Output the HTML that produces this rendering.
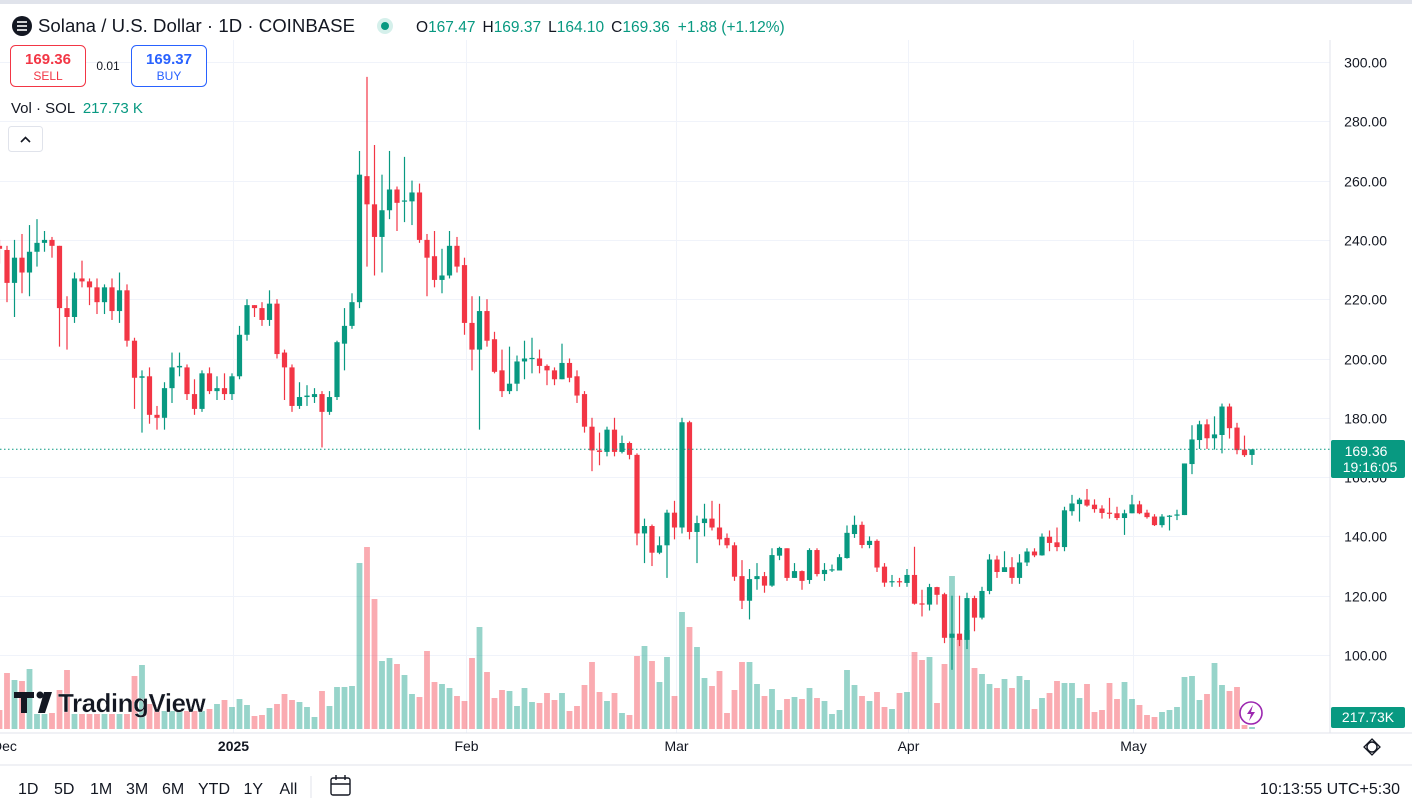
<!DOCTYPE html>
<html><head><meta charset="utf-8"><style>
body{margin:0;width:1412px;height:802px;overflow:hidden;background:#fff;font-family:"Liberation Sans",sans-serif;}
svg{position:absolute;left:0;top:0}
</style></head><body>
<svg id="chart" width="1412" height="802" font-family="Liberation Sans, sans-serif">
<rect x="0" y="0" width="1412" height="4" fill="#e0e3eb"/>
<g id="grid"></g>
<g id="vol"></g>
<g id="candles"></g>
<line x1="0" y1="449.3" x2="1330" y2="449.3" stroke="#089981" stroke-width="1" stroke-dasharray="1.5,2.5"/>
<g id="yaxis"></g>
<g id="xaxis"></g>
<line x1="0" y1="733" x2="1412" y2="733" stroke="#e0e3eb"/>
<line x1="1330" y1="40" x2="1330" y2="733" stroke="#e0e3eb"/>
<rect x="1331" y="440" width="74" height="38" rx="2" fill="#089981"/>
<text x="1366" y="456" fill="#fff" font-size="14" text-anchor="middle">169.36</text>
<text x="1370" y="472" fill="#fff" font-size="14" text-anchor="middle">19:16:05</text>
<rect x="1331" y="707" width="74" height="21" rx="2" fill="#089981"/>
<text x="1368" y="722" fill="#fff" font-size="14" text-anchor="middle">217.73K</text>
<g><circle cx="1372" cy="747" r="5" fill="none" stroke="#131722" stroke-width="1.4"/><polygon points="1372,739 1380,747 1372,755 1364,747" fill="none" stroke="#131722" stroke-width="1.3"/></g>
<g><rect x="14" y="692" width="20" height="6" fill="#131722"/><rect x="21" y="692" width="6" height="21" fill="#131722"/><circle cx="40" cy="695" r="3.5" fill="#131722"/><polygon points="44,692 52,692 45,713 38,713" fill="#131722"/><text x="58" y="712" font-size="26" font-weight="bold" fill="#131722" stroke="#fff" stroke-width="0.3" letter-spacing="-0.5">TradingView</text></g>
<g><circle cx="1251" cy="713" r="11" fill="#fff" stroke="#9c27b0" stroke-width="1.6"/><path d="M1253 705 L1247 714 L1251 714 L1249 721 L1255 712 L1251 712 Z" fill="#9c27b0"/></g>
<line x1="0" y1="765" x2="1412" y2="765" stroke="#e0e3eb"/>
<g id="toolbar"></g>
<g><rect x="331" y="778" width="19" height="17" rx="2" fill="none" stroke="#131722" stroke-width="1.4"/><line x1="331" y1="784" x2="350" y2="784" stroke="#131722" stroke-width="1.4"/><line x1="336" y1="775" x2="336" y2="780" stroke="#131722" stroke-width="1.4"/><line x1="345" y1="775" x2="345" y2="780" stroke="#131722" stroke-width="1.4"/></g>
<line x1="311" y1="776" x2="311" y2="798" stroke="#e0e3eb"/>
<text x="1400" y="794" font-size="16" fill="#131722" text-anchor="end">10:13:55 UTC+5:30</text>
<circle cx="22" cy="26" r="10" fill="#131722"/>
<g stroke="#fff" stroke-width="1.6"><line x1="17" y1="22" x2="27" y2="22"/><line x1="17" y1="26" x2="27" y2="26"/><line x1="17" y1="30" x2="27" y2="30"/></g>
<text x="38" y="32" font-size="18.6" fill="#131722" textLength="317">Solana / U.S. Dollar · 1D · COINBASE</text>
<circle cx="385" cy="26" r="8" fill="#d5f0eb"/>
<circle cx="385" cy="26" r="4" fill="#089981"/>
<text x="416" y="32" font-size="15.5"><tspan fill="#131722">O</tspan><tspan fill="#089981">167.47</tspan><tspan fill="#131722" dx="7">H</tspan><tspan fill="#089981">169.37</tspan><tspan fill="#131722" dx="7">L</tspan><tspan fill="#089981">164.10</tspan><tspan fill="#131722" dx="7">C</tspan><tspan fill="#089981">169.36</tspan><tspan fill="#089981" dx="8">+1.88 (+1.12%)</tspan></text>
<g><rect x="10.5" y="45.5" width="75" height="41" rx="5" fill="#fff" stroke="#f23645"/><text x="48" y="64" font-size="15" font-weight="bold" fill="#f23645" text-anchor="middle">169.36</text><text x="48" y="80" font-size="12" fill="#f23645" text-anchor="middle">SELL</text></g>
<text x="108" y="70" font-size="12" fill="#131722" text-anchor="middle">0.01</text>
<g><rect x="131.5" y="45.5" width="75" height="41" rx="5" fill="#fff" stroke="#2962ff"/><text x="169" y="64" font-size="15" font-weight="bold" fill="#2962ff" text-anchor="middle">169.37</text><text x="169" y="80" font-size="12" fill="#2962ff" text-anchor="middle">BUY</text></g>
<text x="11" y="113" font-size="15" fill="#131722">Vol · SOL <tspan fill="#089981" dx="4">217.73 K</tspan></text>
<g><rect x="8.5" y="126.5" width="34" height="25" rx="3" fill="#fff" stroke="#e0e3eb"/><polyline points="21,142 25.5,137.5 30,142" fill="none" stroke="#131722" stroke-width="1.6"/></g>
</svg>
<script>
const opens=[238,236.6,225.5,234,229,236,239,240,238,217,214,227,226,224,219,224,216,223,206,193.5,194,181,180,190,197,197,188,183,195,189,190,188,194,208,218,217,213,218.5,202,197,184,187,187,188,182,187,205,211,219,261.5,252,241,250,257,253,253,256,240,234.5,226.5,228,238,231.5,212,203,216,206.5,196,189,191.5,199,200,200,197.5,196,193,198.5,194,188,177,169,168.5,176,168.5,171.5,167.5,141,143.5,134.5,137,148,143,178.5,141.5,144.5,146,143,139.5,137,126.6,118.3,125.6,126.6,123.4,133.5,136,126,128.3,125.3,135.4,127.3,128.7,128.5,132.7,140.8,143.9,137.1,138.5,129.8,124.7,124.9,124.3,127,117.4,117,122.9,120.5,105.8,107.2,105.1,119.2,112.6,121.6,132.2,128,129.6,126,131.2,134.9,133.6,139.9,138,136.4,148.5,150.9,152.4,150.7,149.4,148,147.8,146.2,147.8,150.8,148,146.7,143.8,146.8,147,147.2,164.4,172.5,177.8,173.1,174.2,183.8,176.7,169.3,167.47];
const closes=[237,225.5,234,229,236,239,240,238,217,214,227,226,224,219,224,216,223,206,193.5,194,181,180,190,197,197.5,188,183,195,189,190,188,194,208,218,217,213,218.5,201.5,197,184,187,187.5,188,182,187,205.5,211,219,262,252,241,250,257,252.5,253.3,256,240,234,226.5,228,238,231,212,203,216,206,195.5,189,191.5,199,200,200.2,197.5,196,193,198.5,193.5,187.5,177,169,168.5,176,168.5,171.5,167.5,141,143.5,134.5,137,148,143,178.5,141.5,144.5,146,143,139,137,126.4,118.3,125.6,126.6,123.4,133.7,136.1,126,128.3,125,135.4,127.3,128.7,128.9,133,141.2,143.9,137.1,138.5,129.5,124.4,124.9,124.8,127,117.3,117.3,122.9,120.3,105.8,107.2,105.1,119.2,112.6,121.6,132.2,128,129.6,126,131.2,134.9,133.6,139.9,137.8,136.4,148.8,151.1,152.4,150.4,149.2,147.9,147.8,146.2,147.8,150.8,147.8,146.5,143.8,146.7,147,147.4,164.6,172.7,177.8,173.1,174.4,183.8,176.5,169.1,167.4,169.36];
const highs=[240,238,240,242,245,247,243,241,238,221,229,233,227,227,225,227,229,225,207,196,197,184,192,202,202,198,193,196,197,194,195,195,211,220,218,219,223,220,203,198,192,191,190,189,189,206,217,222,270,295,272,262,270,258,268,260,259,242,243,237,243,241,234,221,221,220,209,203,204,201,206,207,203,198,197,205,200,196,189,180,175,177,180,174,172,168,146,144,140,149,152,180,179,147,151,152,151,141,138,132,129,131,128,136,136.5,136,131,128.5,136,136,131,130.5,134,143.7,147,145,140,139,131,127,126,129,136.5,122,124,123,121,120,120,121,120,123,134,133.5,135,133,134,136,136,141,142,143,150,154,153,156,152.5,150.5,153,150,149,154,152,149,147.5,147.5,147.2,149,164.6,177.5,179,179.5,180.5,184.8,184.8,178.3,174,169.37];
const lows=[232,219,214,222,221,231,236,234,204,203,212,224,218,215,215,213,212,204,183,175,178,176,176,185,194,186,181,182,188,186,186,186,193,206,214,211,211,200,186,182,183,184,185,170,181,186,196,210,217,231,228,229,247,243,246,245,239,221,224,222,227,229,208,196,176,204,195,187,188,189,193,195,195,191,191,193,192,185,175,162,164,167,167,168,166,137,131,130,134,126,139,141,139,131,140,142,137,136,125,115.5,112,122,121,123,132,125,126,122,124,126.5,125,128,128.5,132.5,139.5,136,136,128,123,123,123,123,117,113,115,117,104,95,103,102,108,112,120.5,126,128,124,124,130,133,133.5,135,135,135,147,145,150,148,146,146,145.5,140.5,147.8,147.5,146,143.5,143,142,145.5,147.2,161,169.5,169.5,169.3,168,173,167.7,166.8,164.1];
const volumesK=[380,1120,980,960,1200,300,300,320,780,1180,300,300,300,300,300,300,300,300,1060,1280,500,400,360,360,360,360,360,360,400,500,580,440,600,480,260,280,420,500,700,580,540,440,240,760,460,840,840,860,3320,3640,2600,1360,1420,1300,1080,700,640,1560,940,900,820,660,560,1420,2040,1140,620,780,760,460,820,540,520,720,580,720,360,460,880,1340,740,560,720,320,280,1460,1660,1360,940,1440,660,2340,2040,1640,1020,860,1160,320,780,1340,1340,900,660,800,380,600,640,600,820,620,560,300,380,1180,880,660,560,740,440,400,720,740,1540,1380,1440,520,1300,3060,1800,1980,1220,1100,900,820,1000,820,1060,980,400,620,720,960,920,920,620,900,340,380,920,600,940,600,480,280,240,340,380,440,1040,1060,580,700,1320,880,760,840,80,40];
const priceTicks=[100,120,140,160,180,200,220,240,260,280,300];
const monthLabels=["Dec","2025","Feb","Mar","Apr","May"];
const monthIndex=[0,31,62,90,121,151];
const intervals=["1D","5D","1M","3M","6M","YTD","1Y","All"];

const NS="http://www.w3.org/2000/svg";
const xOf=i=>-0.5+7.5*i;
const yOf=p=>62+(300-p)*2.965;
const vH=v=>v/20;
const VBASE=729;
function mk(tag,attrs,parent){const e=document.createElementNS(NS,tag);for(const k in attrs)e.setAttribute(k,attrs[k]);parent.appendChild(e);return e;}
const grid=document.getElementById('grid'),cg=document.getElementById('candles'),vg=document.getElementById('vol'),ya=document.getElementById('yaxis'),xa=document.getElementById('xaxis'),tb=document.getElementById('toolbar');
priceTicks.forEach(p=>{
  const y=Math.round(yOf(p))+0.5;
  const l=mk('line',{x1:0,x2:1330,y1:y,y2:y,stroke:'#f0f3fa'},grid);
  
  
  const t=mk('text',{x:1387,y:y+5,'font-size':14,fill:'#131722','text-anchor':'end'},ya);
  t.textContent=p.toFixed(2);
  
  
});
monthLabels.forEach((m,k)=>{
  const x=Math.round(xOf(monthIndex[k])+1)+0.5;
  if(k>0){const l=mk('line',{x1:x,x2:x,y1:40,y2:733,stroke:'#f0f3fa'},grid);
  
  }
  const t=mk('text',{x:k===0?-8:x,y:751,'font-size':14,fill:'#131722','text-anchor':k===0?'start':'middle','font-weight':k===1?'bold':'normal'},xa);
  t.textContent=m;
  
  
});
closes.forEach((c,i)=>{
  const o=opens[i],up=c>=o,x=xOf(i);
  const vc=up?'rgba(8,153,129,0.42)':'rgba(242,54,69,0.42)';
  const h=vH(volumesK[i]);
  const vb=mk('rect',{x:x-2.9,y:VBASE-h,width:5.8,height:h,fill:vc},vg);
  
  
  const col=up?'#089981':'#f23645';
  const w=mk('line',{x1:x,x2:x,y1:yOf(highs[i]),y2:yOf(lows[i]),stroke:col,'stroke-width':1.2},cg);
  
  
  const top=yOf(Math.max(o,c)),bh=Math.max(1.2,Math.abs(yOf(o)-yOf(c)));
  const b=mk('rect',{x:x-2.6,y:top,width:5.2,height:bh,fill:col},cg);
  
  
});
let tx=18;
intervals.forEach(s=>{
  const t=mk('text',{x:tx,y:794,'font-size':16,fill:'#131722'},tb);
  t.textContent=s;
  
  
  tx+=s.length*9.5+17;
});
</script>
</body></html>
